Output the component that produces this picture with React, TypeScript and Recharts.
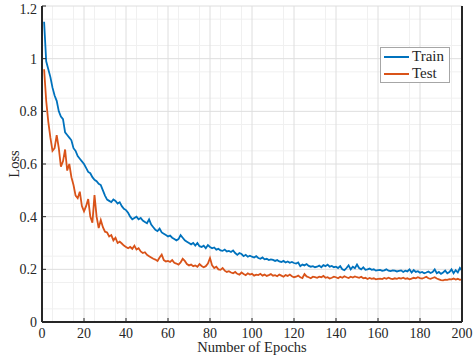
/**
 * TRAINING LOSS CHART
 * Train / Test loss per epoch, MATLAB-style axes with major + minor grid.
 */

import { LineChart, Line, XAxis, YAxis, CartesianGrid } from 'recharts'

// Loss per epoch (epoch 1..200)
const trainLoss = [
  1.14, 0.99, 0.96, 0.93, 0.89, 0.86, 0.84, 0.80, 0.78, 0.77,
  0.72, 0.71, 0.70, 0.69, 0.66, 0.65, 0.63, 0.62, 0.61, 0.60,
  0.585, 0.57, 0.565, 0.55, 0.54, 0.535, 0.525, 0.52, 0.50, 0.48,
  0.465, 0.46, 0.455, 0.465, 0.46, 0.45, 0.455, 0.44, 0.43, 0.425,
  0.415, 0.40, 0.39, 0.395, 0.40, 0.39, 0.395, 0.385, 0.38, 0.375,
  0.39, 0.37, 0.36, 0.35, 0.345, 0.355, 0.34, 0.335, 0.33, 0.325,
  0.328, 0.32, 0.315, 0.31, 0.315, 0.33, 0.32, 0.31, 0.305, 0.30,
  0.295, 0.30, 0.29, 0.30, 0.288, 0.285, 0.29, 0.28, 0.292, 0.285,
  0.28, 0.283, 0.275, 0.278, 0.272, 0.27, 0.275, 0.268, 0.27, 0.266,
  0.272, 0.262, 0.255, 0.262, 0.258, 0.25, 0.255, 0.248, 0.252, 0.248,
  0.245, 0.25, 0.243, 0.24, 0.245, 0.238, 0.24, 0.235, 0.238, 0.236,
  0.232, 0.235, 0.23, 0.228, 0.232, 0.226, 0.23, 0.225, 0.228, 0.224,
  0.222, 0.226, 0.212, 0.218, 0.215, 0.22, 0.213, 0.21, 0.212, 0.208,
  0.21, 0.214, 0.208, 0.216, 0.212, 0.218, 0.21, 0.213, 0.208, 0.21,
  0.205, 0.212, 0.20, 0.197, 0.205, 0.215, 0.20, 0.21, 0.204, 0.218,
  0.205, 0.20, 0.208, 0.198, 0.20, 0.203, 0.198, 0.20, 0.195, 0.197,
  0.198, 0.194, 0.196, 0.20, 0.195, 0.193, 0.196, 0.195, 0.192, 0.194,
  0.196, 0.19, 0.195, 0.192, 0.20, 0.188, 0.197, 0.19, 0.193, 0.187,
  0.19, 0.185, 0.188, 0.192, 0.186, 0.19, 0.20, 0.185, 0.19, 0.183,
  0.188, 0.195, 0.185, 0.19, 0.20, 0.185, 0.197, 0.188, 0.205, 0.195,
]

const testLoss = [
  0.96, 0.84, 0.76, 0.70, 0.65, 0.66, 0.71, 0.66, 0.59, 0.61,
  0.655, 0.575, 0.60, 0.55, 0.52, 0.48, 0.47, 0.495, 0.44, 0.42,
  0.44, 0.467, 0.40, 0.377, 0.482, 0.40, 0.357, 0.387, 0.36, 0.343,
  0.34, 0.325, 0.33, 0.31, 0.32, 0.30, 0.305, 0.298, 0.29, 0.285,
  0.28, 0.285, 0.278, 0.29, 0.275, 0.28, 0.268, 0.262, 0.265, 0.255,
  0.25, 0.245, 0.24, 0.237, 0.232, 0.245, 0.256, 0.235, 0.23, 0.232,
  0.228, 0.235, 0.225, 0.222, 0.218, 0.226, 0.24, 0.232, 0.22, 0.215,
  0.218, 0.212, 0.215, 0.21, 0.22, 0.213, 0.208, 0.212, 0.222, 0.243,
  0.215, 0.205, 0.21, 0.20, 0.198, 0.205, 0.195, 0.19, 0.193, 0.188,
  0.185, 0.19, 0.183, 0.18, 0.188, 0.182, 0.178, 0.185, 0.18, 0.183,
  0.176, 0.18, 0.178, 0.183, 0.176, 0.18, 0.175, 0.178, 0.182, 0.176,
  0.178, 0.174, 0.18, 0.176, 0.172, 0.178, 0.175, 0.18, 0.174, 0.17,
  0.172, 0.176, 0.17, 0.167, 0.182, 0.173, 0.17, 0.166, 0.172, 0.17,
  0.168, 0.172, 0.17, 0.175, 0.168, 0.17, 0.165, 0.168, 0.172, 0.17,
  0.166, 0.172, 0.168, 0.174, 0.17, 0.167, 0.172, 0.169, 0.173, 0.17,
  0.168, 0.172, 0.166, 0.168, 0.163, 0.167, 0.164, 0.166, 0.162, 0.164,
  0.165, 0.163, 0.167, 0.164, 0.168, 0.165, 0.163, 0.166, 0.164, 0.167,
  0.165, 0.168, 0.164, 0.166, 0.162, 0.165, 0.168, 0.166, 0.17, 0.167,
  0.165, 0.168, 0.172, 0.166, 0.164, 0.167, 0.17, 0.165, 0.162, 0.159,
  0.158, 0.161, 0.16, 0.163, 0.162, 0.165, 0.161, 0.164, 0.16, 0.162,
]

// Axis ticks
const xTicks = [0, 20, 40, 60, 80, 100, 120, 140, 160, 180, 200]
const yTicks = [0, 0.2, 0.4, 0.6, 0.8, 1, 1.2]

// Minor grid positions
const xMinor = [
  5, 10, 15, 25, 30, 35, 45, 50, 55, 65, 70, 75, 85, 90, 95, 105, 110, 115,
  125, 130, 135, 145, 150, 155, 165, 170, 175, 185, 190, 195,
]
const yMinor = [0.05, 0.1, 0.15, 0.25, 0.3, 0.35, 0.45, 0.5, 0.55, 0.65, 0.7, 0.75, 0.85, 0.9, 0.95, 1.05, 1.1, 1.15]

const TRAIN = '#0072BD'
const TEST = '#D95319'
const AXIS = '#262626'
const FONT = 'Liberation Serif'

const chartData = trainLoss.map((train, i) => ({
  epoch: i + 1,
  train,
  test: testLoss[i],
}))

// Custom ticks so the serif font is applied for sure
const XTick = ({ x, y, payload }: any) => (
  <text x={x} y={y} dy="0.75em" textAnchor="middle" fill={AXIS} fontSize={14} fontFamily={FONT}>
    {payload.value}
  </text>
)

const YTick = ({ x, y, payload }: any) => (
  <text x={x} y={y} dy="0.35em" textAnchor="end" fill={AXIS} fontSize={14} fontFamily={FONT}>
    {String(payload.value)}
  </text>
)

function LegendBox() {
  const row = (color: string, label: string) => (
    <div style={{ display: 'flex', alignItems: 'center', height: 17 }}>
      <div style={{ width: 25, height: 2, background: color, marginRight: 3 }} />
      <span>{label}</span>
    </div>
  )
  return (
    <div
      style={{
        position: 'absolute',
        left: 380,
        top: 47,
        background: '#fff',
        border: '1px solid #a6a6a6',
        padding: '0px 5px 0px 3px',
        fontFamily: FONT,
        fontSize: 15,
        color: AXIS,
        lineHeight: '17px',
      }}
    >
      {row(TRAIN, 'Train')}
      {row(TEST, 'Test')}
    </div>
  )
}

export default function App() {
  return (
    <div
      style={{
        position: 'absolute',
        left: 0,
        top: 0,
        width: 474,
        height: 357,
        background: '#fff',
        fontFamily: FONT,
      }}
    >
      <LineChart
        width={474}
        height={357}
        data={chartData}
        margin={{ top: 6, right: 11, left: 0, bottom: 0 }}
      >
        {/* minor grid */}
        <CartesianGrid stroke="#f0f0f0" verticalValues={xMinor} horizontalValues={yMinor} />
        {/* major grid */}
        <CartesianGrid stroke="#dedede" verticalValues={xTicks} horizontalValues={yTicks} />

        <XAxis
          dataKey="epoch"
          type="number"
          domain={[0, 200]}
          ticks={xTicks}
          tick={<XTick />}
          tickSize={-4}
          tickMargin={9}
          height={35}
          axisLine={{ stroke: AXIS, strokeWidth: 2 }}
          tickLine={{ stroke: AXIS, strokeWidth: 1 }}
          label={({ viewBox }: any) => (
            <text
              x={viewBox.x + viewBox.width / 2}
              y={352}
              textAnchor="middle"
              fill={AXIS}
              fontSize={14.5}
              fontFamily={FONT}
            >
              Number of Epochs
            </text>
          )}
        />
        <XAxis
          xAxisId="top"
          orientation="top"
          dataKey="epoch"
          type="number"
          domain={[0, 200]}
          ticks={xTicks}
          tickFormatter={() => ''}
          tickSize={-4}
          height={0}
          axisLine={{ stroke: AXIS, strokeWidth: 2 }}
          tickLine={{ stroke: AXIS, strokeWidth: 1 }}
        />
        <YAxis
          type="number"
          domain={[0, 1.2]}
          ticks={yTicks}
          tick={<YTick />}
          tickSize={-4}
          tickMargin={9}
          width={42}
          axisLine={{ stroke: AXIS, strokeWidth: 2 }}
          tickLine={{ stroke: AXIS, strokeWidth: 1 }}
          label={({ viewBox }: any) => (
            <text
              x={14}
              y={viewBox.y + viewBox.height / 2}
              transform={`rotate(-90, 14, ${viewBox.y + viewBox.height / 2})`}
              textAnchor="middle"
              dominantBaseline="central"
              fill={AXIS}
              fontSize={14.5}
              fontFamily={FONT}
            >
              Loss
            </text>
          )}
        />
        <YAxis
          yAxisId="right"
          orientation="right"
          type="number"
          domain={[0, 1.2]}
          ticks={yTicks}
          tickFormatter={() => ''}
          tickSize={-4}
          width={1}
          axisLine={{ stroke: AXIS, strokeWidth: 2 }}
          tickLine={{ stroke: AXIS, strokeWidth: 1 }}
        />

        <Line type="linear" dataKey="train" name="Train" stroke={TRAIN} strokeWidth={1.8} dot={false} isAnimationActive={false} />
        <Line type="linear" dataKey="test" name="Test" stroke={TEST} strokeWidth={1.8} dot={false} isAnimationActive={false} />
      </LineChart>
      <LegendBox />
    </div>
  )
}
